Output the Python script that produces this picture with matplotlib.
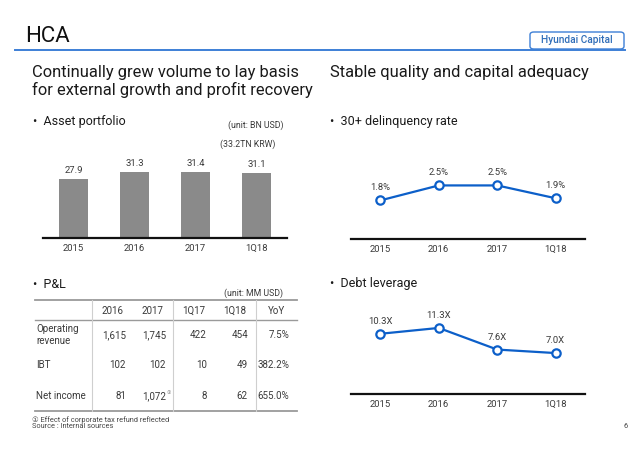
import matplotlib.pyplot as plt
from matplotlib.lines import Line2D
from matplotlib.patches import FancyBboxPatch

plt.rcParams['font.family'] = ['Roboto', 'DejaVu Sans']

# data
years = ["2015", "2016", "2017", "1Q18"]
asset = [27.9, 31.3, 31.4, 31.1]
delinq = [1.8, 2.5, 2.5, 1.9]
leverage = [10.3, 11.3, 7.6, 7.0]

pl_cols = ["2016", "2017", "1Q17", "1Q18", "YoY"]
pl_rows = ["Operating\nrevenue", "IBT", "Net income"]
pl_values = [["1,615", "1,745", "422", "454", "7.5%"],
             ["102", "102", "10", "49", "382.2%"],
             ["81", "1,072", "8", "62", "655.0%"]]

W, H = 638, 451
TXT = "#1a1a1a"
GREY = "#3a3a3a"
BLUE = "#0c5fc9"

fig = plt.figure(figsize=(W / 100, H / 100), dpi=100)


def fx(x):
    return x / W


def fy(y):
    return 1 - y / H


def ptext(x, y, s, **kw):
    kw.setdefault("color", TXT)
    kw.setdefault("va", "center")
    fig.text(fx(x), fy(y), s, **kw)


def pline(x0, y0, x1, y1, **kw):
    fig.add_artist(Line2D([fx(x0), fx(x1)], [fy(y0), fy(y1)], transform=fig.transFigure, **kw))


def pax(x0, x1, ytop, ybase):
    ax = fig.add_axes([fx(x0), fy(ybase), (x1 - x0) / W, (ybase - ytop) / H])
    ax.patch.set_alpha(0)
    for s in ["top", "left", "right"]:
        ax.spines[s].set_visible(False)
    ax.spines["bottom"].set_linewidth(1.6)
    ax.spines["bottom"].set_color("#111111")
    ax.set_yticks([])
    ax.tick_params(axis="x", length=0, pad=4, labelsize=6.8, labelcolor=GREY)
    ax.set_xlim(-0.5, 3.5)
    return ax


# header
ptext(25, 36, "HCA", fontsize=16, va="center", color="#111111")
pline(15, 49.5, 625, 49.5, color="#3d7fd6", lw=1.4)
fig.add_artist(FancyBboxPatch((fx(530), fy(49)), (624 - 530) / W, 17 / H,
                              boxstyle="round,pad=0,rounding_size=0.006",
                              transform=fig.transFigure, fill=False,
                              edgecolor="#3d7fd6", lw=1.0))
ptext(577, 40, "Hyundai Capital", fontsize=7.3, ha="center", color="#2f6db8",
      fontweight="medium")

ptext(32, 73, "Continually grew volume to lay basis", fontsize=11.9)
ptext(32, 90, "for external growth and profit recovery", fontsize=11.9)
ptext(330, 73, "Stable quality and capital adequacy", fontsize=11.9)

# bullets
ptext(33, 122, "•  Asset portfolio", fontsize=9)
ptext(283, 125, "(unit: BN USD)", fontsize=6.3, ha="right", color=GREY)
ptext(275, 144, "(33.2TN KRW)", fontsize=6.3, ha="right", color=GREY)
ptext(330, 122, "•  30+ delinquency rate", fontsize=9)
ptext(33, 284, "•  P&L", fontsize=9)
ptext(283, 293, "(unit: MM USD)", fontsize=6.3, ha="right", color=GREY)
ptext(330, 284, "•  Debt leverage", fontsize=9)

# asset portfolio bars
ax = pax(43, 287, 154, 238)
ax.bar(range(len(years)), asset, width=0.49, color="#8a8a8a")
ax.set_ylim(0, 40)
ax.set_xticks(range(len(years)), years)
for i, v in enumerate(asset):
    ax.annotate(f"{v:.1f}", (i, v), xytext=(0, 3), textcoords="offset points",
                ha="center", va="bottom", fontsize=6.8, color=GREY)

# delinquency line
ax = pax(351, 585, 164, 239)
ax.plot(range(len(years)), delinq, color=BLUE, lw=1.6, marker="o", ms=6,
        mfc="white", mec=BLUE, mew=1.6)
ax.set_ylim(0, 3.5)
ax.set_xticks(range(len(years)), years)
for i, v in enumerate(delinq):
    ax.annotate(f"{v:.1f}%", (i, v), xytext=(0, 9), textcoords="offset points",
                ha="center", va="center", fontsize=6.8, color=GREY)

# debt leverage line
ax = pax(351, 585, 318, 394)
ax.plot(range(len(years)), leverage, color=BLUE, lw=1.6, marker="o", ms=6,
        mfc="white", mec=BLUE, mew=1.6)
ax.set_ylim(0, 13)
ax.set_xticks(range(len(years)), years)
for i, v in enumerate(leverage):
    ax.annotate(f"{v:.1f}X", (i, v), xytext=(0, 9), textcoords="offset points",
                ha="center", va="center", fontsize=6.8, color=GREY)

# P&L table
pline(35, 300, 297, 300, color="#9a9a9a", lw=1.3)
pline(35, 320, 297, 320, color="#9a9a9a", lw=1.0)
pline(35, 411, 297, 411, color="#9a9a9a", lw=1.3)
for x in [92, 173, 256]:
    pline(x, 300, x, 411, color="#cfcfcf", lw=0.8)

head_x = [112, 153, 194, 235, 277]
num_x = [126, 166, 207, 248, 289]
row_y = [335, 365, 396]
for hx, c in zip(head_x, pl_cols):
    ptext(hx, 311, c, fontsize=7, ha="center", color=GREY)
for ry, lab, vals in zip(row_y, pl_rows, pl_values):
    ptext(36, ry, lab, fontsize=7, color=GREY, linespacing=1.25)
    for nx, v in zip(num_x, vals):
        ptext(nx, ry, v, fontsize=7, ha="right", color=GREY)
ptext(166.5, 393, "①", fontsize=3.5, color="#777777")

ptext(32, 420, "① Effect of corporate tax refund reflected", fontsize=5.3, color="#444444")
ptext(32, 427, "Source : Internal sources", fontsize=5.3, color="#444444")
ptext(624, 427, "6", fontsize=5.3, color="#444444")

fig.savefig("out.png", dpi=100)
